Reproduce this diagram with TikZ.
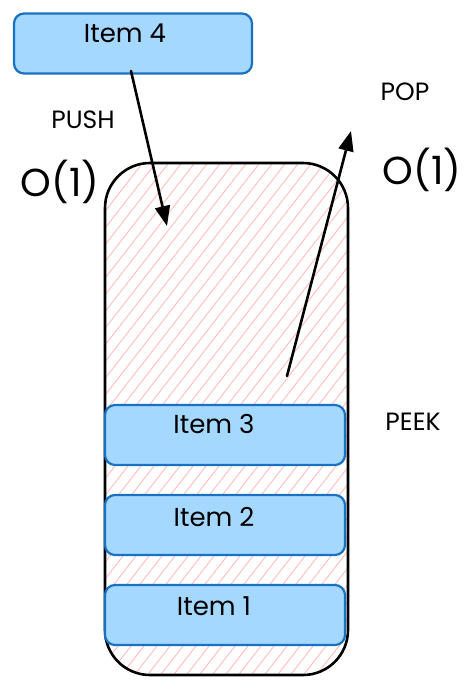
\documentclass[tikz,border=0pt]{standalone}
\usepackage{fontspec}
\setmainfont{Poppins}
\usetikzlibrary{arrows.meta}
\definecolor{itemfill}{HTML}{A5D8FF}
\definecolor{itemdraw}{HTML}{1971C2}
\definecolor{hatch}{HTML}{FFBDBD}
\tikzset{
  itembox/.style={draw=itemdraw, line width=2.2pt, fill=itemfill, rounded corners=10pt, minimum height=60pt, inner sep=0pt},
  itemtext/.style={font=\fontsize{26}{28}\selectfont, inner sep=0pt},
  lbl/.style={font=\fontsize{25}{27}\selectfont, inner sep=0pt},
  big/.style={font=\fontsize{39}{41}\selectfont, inner sep=0pt},
  arr/.style={line width=2.6pt, -{Triangle[length=20pt,width=15pt]}, line cap=round},
}
\begin{document}
\begin{tikzpicture}[x=1pt,y=-1pt]
\useasboundingbox (0,0) rectangle (474,690);
% container
\begin{scope}
\clip[rounded corners=45pt] (105,163) rectangle (348,675);
\foreach \k in {-600,-587,...,400}{
  \draw[hatch, line width=0.9pt] (\k,700) -- (\k+560,-20);
}
\end{scope}
\node[draw, line width=2.6pt, rounded corners=45pt, minimum width=243pt, minimum height=512pt, inner sep=0pt] (stack) at (226.5,419) {};
% items
\node[itembox, minimum width=238pt] (i4) at (133,43.5) {};
\node[itemtext] at (125,33) {Item 4};
\node[itembox, minimum width=240pt] (i3) at (225,435) {};
\node[itemtext] at (214,424) {Item 3};
\node[itembox, minimum width=240pt] (i2) at (225,525) {};
\node[itemtext] at (214,517) {Item 2};
\node[itembox, minimum width=240pt] (i1) at (225,615) {};
\node[itemtext] at (214,606) {Item 1};
% labels
\node[lbl] (push) at (83,120) {PUSH};
\node[lbl] (pop) at (405,92) {POP};
\node[lbl] (peek) at (413,422) {PEEK};
\node[big] (o1) at (60,182) {O(1)};
\node[big] (o2) at (422,170) {O(1)};
% arrows
\coordinate (pushend) at (167,226);
\coordinate (popstart) at (287,376);
\coordinate (popend) at (351,131);
\draw[arr] (131,71) -- (pushend);
\draw[arr] (popstart) -- (popend);
\end{tikzpicture}
\end{document}
